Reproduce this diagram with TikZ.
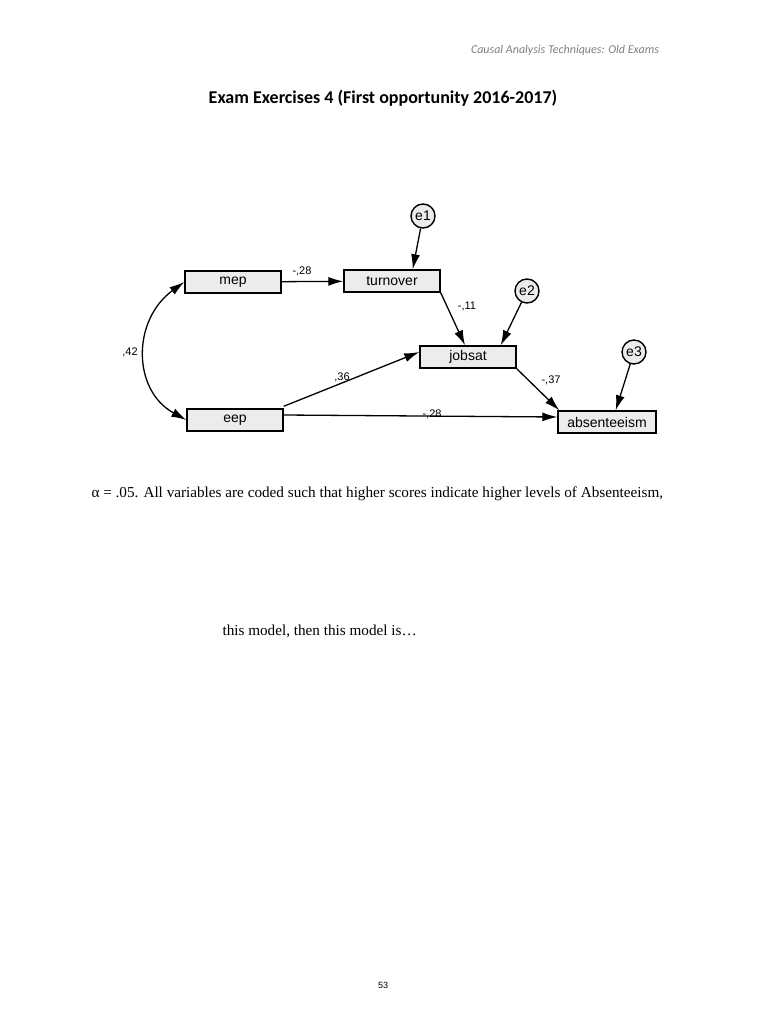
\documentclass[tikz,border=0pt]{standalone}
\usepackage{fontspec}
\setmainfont{Liberation Serif}
\newfontfamily\arial{Liberation Sans}
\newfontfamily\calib{Carlito}
\usetikzlibrary{arrows.meta}
\begin{document}
\begin{tikzpicture}[x=1pt,y=-1pt,
  var/.style={draw,line width=1.4pt,fill=gray!15,minimum width=96pt,minimum height=22pt,inner sep=0pt,font=\arial\fontsize{14}{16}\selectfont},
  err/.style={draw,line width=1.4pt,circle,fill=gray!15,minimum size=24pt,inner sep=0pt,font=\arial\fontsize{14}{16}\selectfont},
  arr/.style={-{Latex[length=15pt,width=9pt]},line width=1.3pt},
  lbl/.style={font=\arial\fontsize{11}{12}\selectfont}]
\useasboundingbox (0,0) rectangle (768,1024);
\fill[white] (0,0) rectangle (768,1024);
\node[font=\calib\itshape\fontsize{12}{14}\selectfont,text=gray] (hdr) at (565,50) {Causal Analysis Techniques: Old Exams};
\node[font=\calib\bfseries\fontsize{18}{20}\selectfont] (title) at (383,98) {Exam Exercises 4 (First opportunity 2016-2017)};
\node[var] (mep) at (233,282) {mep};
\node[var] (turn) at (392,281) {turnover};
\node[var] (job) at (468,357) {jobsat};
\node[var] (eep) at (235,420) {eep};
\node[var,minimum width=98pt] (abs) at (607,422) {absenteeism};
\node[err] (e1) at (423,216) {e1};
\node[err] (e2) at (527,291) {e2};
\node[err] (e3) at (634,352) {e3};
\draw[arr] (e1) -- ([xshift=-28pt]turn.north east);
\draw[arr] (e2) -- ([xshift=-16pt]job.north east);
\draw[arr] (e3) -- ([xshift=-41pt]abs.north east);
\draw[arr] (mep) -- (turn);
\draw[arr] (turn.south east) -- ([xshift=-3pt]job.north);
\draw[arr] (job.south east) -- ([xshift=2pt]abs.north west);
\draw[arr] ([yshift=2pt]eep.north east) -- ([yshift=5pt]job.west);
\draw[arr] ([yshift=5pt]eep.east) -- ([yshift=5pt]abs.west);
\draw[{Latex[length=15pt,width=9pt]}-{Latex[length=15pt,width=9pt]},line width=1.3pt] (mep.west) .. controls (132,320) and (132,390) .. (eep.west);
\node[lbl] (l1) at (302,271) {-,28};
\node[lbl] (l2) at (467,306) {-,11};
\node[lbl] (l3) at (130,352) {,42};
\node[lbl] (l4) at (342,377) {,36};
\node[lbl] (l5) at (551,380) {-,37};
\node[lbl] (l6) at (432,414) {-,28};
\node[anchor=west,font=\fontsize{15.2}{17}\selectfont] (t1) at (88,494) {α = .05. All variables are coded such that higher scores indicate higher levels of Absenteeism,};
\node[anchor=west,font=\fontsize{15.2}{17}\selectfont] (t2) at (219,631) {this model, then this model is…};
\node[font=\arial\fontsize{9}{10}\selectfont] (pg) at (383,985) {53};
\end{tikzpicture}
\end{document}
